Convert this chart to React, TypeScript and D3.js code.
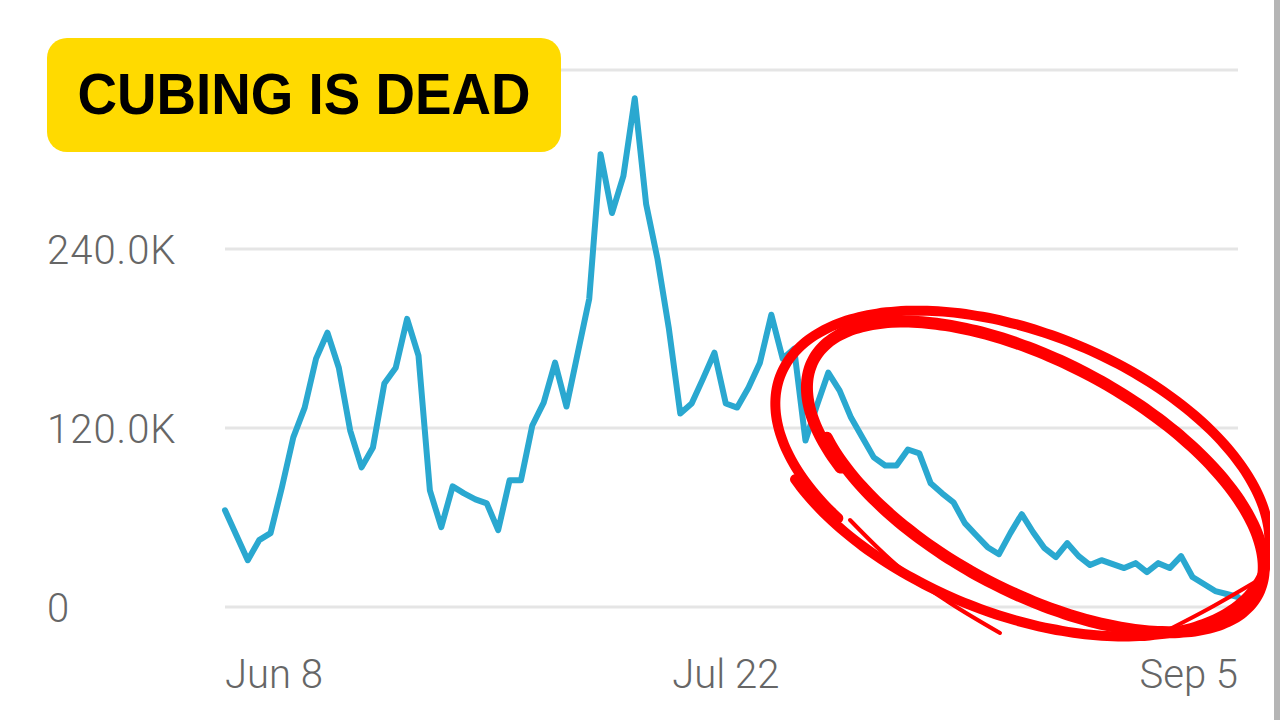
import React from "react";
import * as d3 from "d3";

// ---- data (values in thousands, daily from Jun 8 to Sep 5) ----
const values: number[] = [
  64.8, 48.1, 31.4, 44.8, 49.5, 80.2, 113.7, 133.7, 166.5, 183.9,
  160.4, 118.3, 93.6, 107.0, 149.8, 160.4, 193.2, 168.5, 78.2, 53.5,
  80.9, 76.2, 72.2, 69.5, 51.5, 84.9, 84.9, 121.7, 137.0, 163.8,
  134.4, 170.5, 206.6, 303.5, 264.1, 288.8, 341.0, 270.1, 233.3, 186.5,
  129.7, 136.4, 153.1, 170.5, 136.4, 133.7, 147.1, 163.8, 195.9, 166.5,
  173.2, 111.6, 135.0, 157.1, 145.1, 127.0, 113.7, 100.3, 94.9, 94.9,
  105.6, 103.0, 82.9, 76.2, 70.2, 56.2, 48.1, 40.1, 35.4, 49.5,
  62.2, 50.1, 39.4, 33.4, 42.8, 34.1, 28.1, 31.4, 28.7, 26.1,
  29.4, 23.4, 29.4, 26.1, 34.1, 20.1, 15.4, 10.7, 8.7, 6.7,
];
const yTicks: number[] = [0, 120, 240, 360];
const yTickLabels: string[] = ["0", "120.0K", "240.0K", ""];
const xTickIdx: number[] = [0, 44, 89];
const xTickLabels: string[] = ["Jun 8", "Jul 22", "Sep 5"];
const title = "CUBING IS DEAD";

const startDate = new Date(Date.UTC(2024, 5, 8));
const dates = values.map((_, i) => d3.utcDay.offset(startDate, i));

const W = 1280;
const H = 720;

function ellipsePts(
  cx: number, cy: number, rx: number, ry: number, rot: number,
  t0: number, t1: number, grow: number, n = 140
): [number, number][] {
  const th = (rot * Math.PI) / 180;
  const c = Math.cos(th), s = Math.sin(th);
  const pts: [number, number][] = [];
  for (let k = 0; k <= n; k++) {
    const f = k / n;
    const t = t0 + (t1 - t0) * f;
    const g = 1 + grow * (f - 0.5);
    const ex = rx * g * Math.cos(t);
    const ey = ry * g * Math.sin(t);
    pts.push([cx + ex * c - ey * s, cy + ex * s + ey * c]);
  }
  return pts;
}

export default function App() {
  const x = d3
    .scaleUtc()
    .domain([dates[0], dates[dates.length - 1]])
    .range([225, 1238]);
  const y = d3.scaleLinear().domain([0, 360]).range([607, 70]);

  const line = d3
    .line<number>()
    .x((_, i) => x(dates[i]))
    .y((d) => y(d))
    .curve(d3.curveLinear);

  const smooth = d3.line().curve(d3.curveCatmullRom);

  const loop1 = smooth(ellipsePts(1020, 472, 262, 140, 22, 2.2, 2.2 + Math.PI * 2 + 0.25, 0.04))!;
  const loop2 = smooth(ellipsePts(1037, 478, 250, 115, 28, 2.35, 2.35 + Math.PI * 2 + 0.2, -0.03))!;
  const tail1 = smooth([[850, 520], [900, 568], [950, 603], [1000, 633]])!;
  const tail2 = smooth([[1168, 630], [1210, 608], [1262, 578]])!;

  const labelFont = "Roboto, 'Liberation Sans', Arial, sans-serif";
  const titleFont = "'Liberation Sans', Arial, sans-serif";

  return (
    <svg
      width={W}
      height={H}
      style={{ position: "absolute", left: 0, top: 0, background: "#fff" }}
    >
      <rect x={0} y={0} width={W} height={H} fill="#ffffff" />
      {/* gridlines */}
      {yTicks.map((t) => (
        <line
          key={"g" + t}
          x1={225}
          x2={1238}
          y1={y(t)}
          y2={y(t)}
          stroke="#e5e5e5"
          strokeWidth={3}
        />
      ))}
      {/* y labels */}
      {yTicks.map((t, i) =>
        yTickLabels[i] ? (
          <text
            key={"yl" + t}
            x={47}
            y={y(t) + 15}
            fontFamily={labelFont}
            fontWeight={300}
            fontSize={40}
            letterSpacing={1}
            fill="#666666"
          >
            {yTickLabels[i]}
          </text>
        ) : null
      )}
      {/* x labels */}
      {xTickIdx.map((idx, i) => (
        <text
          key={"xl" + idx}
          x={x(dates[idx])}
          y={688}
          textAnchor={i === 0 ? "start" : i === xTickIdx.length - 1 ? "end" : "middle"}
          fontFamily={labelFont}
          fontWeight={300}
          fontSize={40}
          fill="#666666"
        >
          {xTickLabels[i]}
        </text>
      ))}
      {/* data line */}
      <path
        d={line(values)!}
        fill="none"
        stroke="#2aa8d0"
        strokeWidth={6}
        strokeLinejoin="round"
        strokeLinecap="round"
      />
      {/* title badge */}
      <rect x={47} y={38} width={514} height={114} rx={20} ry={20} fill="#ffda00" />
      <text
        x={304}
        y={114}
        textAnchor="middle"
        fontFamily={titleFont}
        fontWeight={700}
        fontSize={57}
        textLength={453}
        lengthAdjust="spacingAndGlyphs"
        fill="#000"
      >
        {title}
      </text>
      {/* red hand-drawn circle annotation */}
      <g fill="none" stroke="#ff0000" strokeLinecap="round" strokeLinejoin="round">
        <path d={loop1} strokeWidth={10} />
        <path d={loop2} strokeWidth={12} />
        <path d={tail1} strokeWidth={4} />
        <path d={tail2} strokeWidth={4} />
      </g>
      {/* right edge divider */}
      <rect x={1274} y={0} width={6} height={H} fill="#b5b5b5" />
      <rect x={1270} y={0} width={4} height={H} fill="#ffffff" />
    </svg>
  );
}
